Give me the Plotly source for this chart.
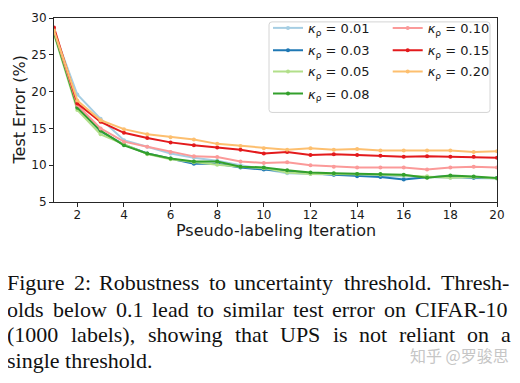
import plotly.graph_objects as go

# ---------------- data ----------------
iterations = list(range(1, 21))
kappa_labels = ["0.01", "0.03", "0.05", "0.08", "0.10", "0.15", "0.20"]
err_001 = [28.2, 19.6, 16.3, 13.4, 12.5, 11.6, 11.0, 10.6, 10.0, 9.5, 8.9, 8.8, 8.7, 8.6, 8.5, 8.5, 8.4, 8.3, 8.3, 8.2]
err_003 = [28.0, 17.9, 14.6, 12.8, 11.6, 10.9, 10.2, 10.2, 9.7, 9.4, 9.1, 8.9, 8.7, 8.5, 8.4, 8.05, 8.35, 8.5, 8.3, 8.25]
err_005 = [27.8, 17.5, 14.2, 12.9, 11.5, 10.8, 10.4, 10.05, 9.8, 9.6, 9.0, 8.8, 8.8, 8.8, 8.7, 8.6, 8.5, 8.3, 8.4, 8.2]
err_008 = [28.0, 17.8, 14.7, 12.7, 11.6, 10.9, 10.5, 10.5, 9.8, 9.7, 9.3, 9.0, 8.9, 8.8, 8.8, 8.7, 8.3, 8.6, 8.45, 8.25]
err_010 = [28.3, 18.2, 15.0, 13.2, 12.5, 11.8, 11.2, 11.1, 10.5, 10.3, 10.4, 10.0, 9.8, 9.7, 9.7, 9.7, 9.4, 9.7, 9.8, 9.7]
err_015 = [28.7, 18.4, 15.9, 14.4, 13.7, 13.1, 12.7, 12.4, 12.1, 11.6, 11.8, 11.4, 11.5, 11.4, 11.3, 11.15, 11.2, 11.15, 11.15, 11.0]
err_020 = [28.3, 18.8, 16.1, 14.9, 14.2, 13.8, 13.5, 12.9, 12.6, 12.3, 12.1, 12.3, 12.1, 12.2, 12.0, 12.0, 12.0, 12.0, 11.8, 11.9]
x_ticks = [2, 4, 6, 8, 10, 12, 14, 16, 18, 20]
y_ticks = [5, 10, 15, 20, 25, 30]
x_title = "Pseudo-labeling Iteration"
y_title = "Test Error (%)"
caption_lines = [
    "Figure 2: Robustness to uncertainty threshold. Thresh-",
    "olds below 0.1 lead to similar test error on CIFAR-10",
    "(1000 labels), showing that UPS is not reliant on a",
    "single threshold.",
]
watermark = "知乎 @罗骏思"

# ---------------- style ----------------
series = [err_001, err_003, err_005, err_008, err_010, err_015, err_020]
colors = ["#a6cee3", "#1f78b4", "#b2df8a", "#33a02c", "#fb9a99", "#e31a1c", "#fdbf6f"]
PAGE_W, PAGE_H, OFF = 520, 383, 8          # browser body margin offset
W, H = PAGE_W - OFF, PAGE_H - OFF
L, R, T, B = 54, 497, 13, 202              # plot area in page px


def px_x(px):
    return (px - L) / (R - L)


def px_y(py):
    return (B - py) / (B - T)


# legend entry placement (matplotlib ncol=2, column-major)
leg_cols = [268, 268, 268, 268, 387.7, 387.7, 387.7]
leg_rows = [29.3, 52.3, 74.0, 96.7, 29.3, 52.3, 74.0]

# caption layout (justified text, Times metrics in 1/1000 em)
CAP_SIZE = 22
WIDTH_SCALE = 1.025
CAP_LEFT, CAP_RIGHT = 6, 510
caption_mid = [284.7, 312.0, 338.5, 365.0]
caption_justify = [True, True, True, False]
times_w = {
    "(": 333, ")": 333, ",": 250, "-": 333, ".": 250, ":": 278,
    "A": 722, "C": 667, "F": 556, "I": 333, "P": 556, "R": 667, "S": 556, "T": 611, "U": 722,
    "a": 444, "b": 500, "c": 444, "d": 500, "e": 444, "g": 500, "h": 500, "i": 278, "l": 278,
    "m": 778, "n": 500, "o": 500, "r": 333, "s": 389, "t": 278, "u": 500, "w": 722, "y": 500,
}


def word_width(w):
    return sum(times_w.get(c, 500) for c in w) / 1000 * CAP_SIZE * WIDTH_SCALE


fig = go.Figure()
for i, (vals, col, lab) in enumerate(zip(series, colors, kappa_labels)):
    lname = "legend" if i == 0 else f"legend{i + 1}"
    fig.add_trace(go.Scatter(
        x=iterations, y=vals, mode="lines+markers",
        name=f"<i>κ</i><sub>ρ</sub> = {lab}",
        line=dict(color=col, width=2),
        marker=dict(color=col, size=4),
        legend=lname,
    ))

legend_layouts = {}
for i in range(7):
    lname = "legend" if i == 0 else f"legend{i + 1}"
    legend_layouts[lname] = dict(
        x=px_x(leg_cols[i]), y=px_y(leg_rows[i] - 21.5),
        xanchor="left", yanchor="top",
        bgcolor="rgba(0,0,0,0)", borderwidth=0,
        font=dict(family="DejaVu Sans", size=13, color="#1a1a1a"),
    )

axis_common = dict(
    showline=True, mirror=True, linecolor="#262626", linewidth=1,
    ticks="outside", ticklen=4, tickcolor="#262626", tickwidth=1,
    showgrid=False, zeroline=False, automargin=False,
    tickfont=dict(family="DejaVu Sans", size=12, color="#1a1a1a"),
)

fig.update_layout(
    width=W, height=H, autosize=False,
    margin=dict(l=L - OFF, r=W - (R - OFF), t=T - OFF, b=H - (B - OFF), pad=0),
    paper_bgcolor="white", plot_bgcolor="white",
    showlegend=True,
    xaxis=dict(range=[1, 20], tickvals=x_ticks, ticklabelstandoff=-2, **axis_common),
    yaxis=dict(range=[5, 30], tickvals=y_ticks, **axis_common),
    **legend_layouts,
)

# axis titles
fig.add_annotation(text=x_title, xref="paper", yref="paper", x=px_x(275.5), y=px_y(231),
                   xanchor="center", yanchor="middle", showarrow=False,
                   font=dict(family="DejaVu Sans", size=16, color="#1a1a1a"))
fig.add_annotation(text=y_title, xref="paper", yref="paper", x=px_x(19), y=px_y(108),
                   xanchor="center", yanchor="middle", showarrow=False, textangle=-90,
                   font=dict(family="DejaVu Sans", size=16, color="#1a1a1a"))

# legend frame (rounded, matplotlib style)
x0, x1, y0, y1 = px_x(269), px_x(490), px_y(17), px_y(110)
rx, ry = 3 / (R - L), 3 / (B - T)
path = (f"M{x0 + rx},{y0} L{x1 - rx},{y0} Q{x1},{y0} {x1},{y0 - ry} "
        f"L{x1},{y1 + ry} Q{x1},{y1} {x1 - rx},{y1} L{x0 + rx},{y1} "
        f"Q{x0},{y1} {x0},{y1 + ry} L{x0},{y0 - ry} Q{x0},{y0} {x0 + rx},{y0} Z")
fig.add_shape(type="path", path=path, xref="paper", yref="paper",
              line=dict(color="#d4d4d4", width=1), fillcolor="rgba(255,255,255,0.8)", layer="above")

# caption: justified lines placed word by word (all left-anchored, equal gaps)
cap_font = dict(family="Liberation Serif", size=CAP_SIZE, color="#111111")
for line, mid, just in zip(caption_lines, caption_mid, caption_justify):
    if not just:
        fig.add_annotation(text=line, xref="paper", yref="paper", x=px_x(CAP_LEFT), y=px_y(mid),
                           xanchor="left", yanchor="middle", showarrow=False, font=cap_font,
                           borderpad=0)
        continue
    words = line.split(" ")
    widths = [word_width(w) for w in words]
    gap = (CAP_RIGHT - CAP_LEFT - sum(widths)) / (len(words) - 1)
    xpos = CAP_LEFT
    for w, ww in zip(words, widths):
        fig.add_annotation(text=w, xref="paper", yref="paper", x=px_x(xpos), y=px_y(mid),
                           xanchor="left", yanchor="middle", showarrow=False, font=cap_font,
                           borderpad=0)
        xpos += ww + gap

fig.add_annotation(text=watermark, xref="paper", yref="paper", x=px_x(459), y=px_y(359),
                   xanchor="center", yanchor="middle", showarrow=False,
                   font=dict(family="Noto Sans CJK SC", size=16, color="#c6c6c6"))

fig.write_html("out.html")
